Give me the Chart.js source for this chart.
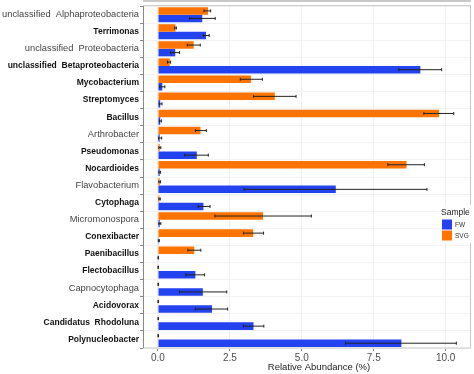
<!DOCTYPE html>
<html>
<head>
<meta charset="utf-8">
<script src="https://cdn.jsdelivr.net/npm/chart.js@4"></script>
<style>
  html, body { margin: 0; padding: 0; background: #fff; }
  #wrap { width: 474px; height: 374px; position: relative; }
</style>
</head>
<body>
<div id="wrap"><canvas id="chart"></canvas></div>
<script>
const categories = [
  "unclassified  Alphaproteobacteria", "Terrimonas", "unclassified  Proteobacteria",
  "unclassified  Betaproteobacteria", "Mycobacterium", "Streptomyces", "Bacillus",
  "Arthrobacter", "Pseudomonas", "Nocardioides", "Flavobacterium", "Cytophaga",
  "Micromonospora", "Conexibacter", "Paenibacillus", "Flectobacillus",
  "Capnocytophaga", "Acidovorax", "Candidatus  Rhodoluna", "Polynucleobacter"
];
const boldLabel = [false, true, false, true, true, true, true, false, true, true,
  false, true, false, true, true, true, false, true, true, true];

const fwValues = [1.54, 1.67, 0.60, 9.12, 0.15, 0.08, 0.08, 0.06, 1.35, 0.06,
  6.18, 1.58, 0.06, 0.03, 0.01, 1.30, 1.56, 1.88, 3.32, 8.46];
const fwLow = [1.10, 1.57, 0.44, 8.37, 0.06, 0.04, 0.05, 0.02, 0.93, 0.03,
  2.99, 1.40, 0.03, 0.01, 0.00, 0.97, 0.75, 1.30, 2.97, 6.52];
const fwHigh = [1.99, 1.78, 0.75, 9.86, 0.24, 0.14, 0.12, 0.13, 1.75, 0.09,
  9.35, 1.81, 0.10, 0.05, 0.02, 1.62, 2.39, 2.42, 3.68, 10.37];

const svgValues = [1.74, 0.61, 1.24, 0.41, 3.23, 4.06, 9.77, 1.48, 0.06, 8.64,
  0.06, 0.05, 3.65, 3.31, 1.26, 0.01, 0.01, 0.01, 0.01, 0.01];
const svgLow = [1.60, 0.58, 1.02, 0.33, 2.86, 3.32, 9.24, 1.30, 0.03, 7.99,
  0.03, 0.03, 1.98, 2.97, 1.04, 0.00, 0.00, 0.00, 0.00, 0.00];
const svgHigh = [1.83, 0.64, 1.47, 0.44, 3.63, 4.80, 10.28, 1.68, 0.10, 9.26,
  0.09, 0.08, 5.33, 3.67, 1.49, 0.02, 0.02, 0.02, 0.02, 0.02];

const xTicks = [0, 2.5, 5, 7.5, 10];
const seriesNames = ["FW", "SVG"];
const xTitle = "Relative Abundance (%)";
const BLUE = "#2342f0";
const ORANGE = "#ff7400";
const FONT = "'Liberation Sans', Arial, sans-serif";

const errorBars = {
  id: "errorBars",
  afterDatasetsDraw(chart) {
    const ctx = chart.ctx;
    const x = chart.scales.x;
    ctx.save();
    ctx.strokeStyle = "#222";
    ctx.lineWidth = 1;
    chart.data.datasets.forEach((ds, di) => {
      const meta = chart.getDatasetMeta(di);
      meta.data.forEach((bar, i) => {
        const y = bar.y;
        const x1 = x.getPixelForValue(ds.errLow[i]);
        const x2 = x.getPixelForValue(ds.errHigh[i]);
        ctx.beginPath();
        ctx.moveTo(x1, y); ctx.lineTo(x2, y);
        ctx.moveTo(x1, y - 1.5); ctx.lineTo(x1, y + 1.5);
        ctx.moveTo(x2, y - 1.5); ctx.lineTo(x2, y + 1.5);
        ctx.stroke();
      });
    });
    ctx.restore();
  }
};

const panelAndLegend = {
  id: "panelAndLegend",
  afterDraw(chart) {
    const ctx = chart.ctx;
    const a = chart.chartArea;
    ctx.save();
    ctx.strokeStyle = "#c8c8c8";
    ctx.lineWidth = 1;
    ctx.strokeRect(a.left + 0.5, a.top - 0.5, a.right - a.left - 1, a.bottom - a.top + 0.5);
    ctx.fillStyle = "#c8c8c8";
    ctx.fillRect(a.left, 0, a.right - a.left, 2);
    ctx.strokeStyle = "#888";
    ctx.beginPath();
    ctx.moveTo(a.left + 0.5, a.top); ctx.lineTo(a.left + 0.5, a.bottom);
    ctx.stroke();

    // axis title, placed as in the original figure
    ctx.fillStyle = "#222";
    ctx.font = "9.5px " + FONT;
    ctx.textAlign = "center";
    ctx.textBaseline = "middle";
    ctx.fillText(xTitle, 319, 367);

    // legend
    ctx.textAlign = "left";
    ctx.fillStyle = "#fff";
    ctx.fillRect(438, 205, 34, 38);
    ctx.fillStyle = "#222";
    ctx.font = "8.5px " + FONT;
    ctx.fillText("Sample", 441, 213);
    const colors = [BLUE, ORANGE];
    ctx.font = "6.5px " + FONT;
    seriesNames.forEach((n, i) => {
      ctx.fillStyle = colors[i];
      ctx.fillRect(442, 219.5 + i * 11, 10, 10);
      ctx.fillStyle = "#333";
      ctx.fillText(n, 455, 225 + i * 11);
    });
    ctx.restore();
  }
};

new Chart(document.getElementById("chart"), {
  type: "bar",
  data: {
    labels: categories,
    datasets: [
      { label: "SVG", data: svgValues, errLow: svgLow, errHigh: svgHigh,
        backgroundColor: ORANGE },
      { label: "FW", data: fwValues, errLow: fwLow, errHigh: fwHigh,
        backgroundColor: BLUE }
    ]
  },
  options: {
    indexAxis: "y",
    responsive: true,
    maintainAspectRatio: false,
    animation: false,
    categoryPercentage: 0.88,
    barPercentage: 1,
    layout: { padding: { top: 3, right: 3, left: 0, bottom: 0 } },
    plugins: {
      legend: { display: false },
      tooltip: { enabled: false }
    },
    scales: {
      x: {
        type: "linear",
        min: -0.52,
        max: 10.88,
        afterBuildTicks: (scale) => { scale.ticks = xTicks.map(v => ({ value: v })); },
        afterFit: (scale) => { scale.height = 26; },
        border: { display: false },
        grid: { color: "#eeeeee", tickLength: 3, tickColor: "#888" },
        ticks: {
          padding: 1,
          color: "#4d4d4d",
          font: { family: FONT, size: 10 },
          callback: (v) => Number(v).toFixed(1)
        }
      },
      y: {
        afterFit: (scale) => { scale.width = 143; },
        border: { display: false },
        grid: { color: "#f2f2f2", tickLength: 3, tickColor: "#888" },
        ticks: {
          padding: 1,
          autoSkip: false,
          color: (c) => boldLabel[c.index] ? "#111" : "#444",
          font: (c) => boldLabel[c.index]
            ? { family: FONT, size: 8.5, weight: "bold" }
            : { family: FONT, size: 9.3, weight: "normal" }
        }
      }
    }
  },
  plugins: [errorBars, panelAndLegend]
});
</script>
</body>
</html>
